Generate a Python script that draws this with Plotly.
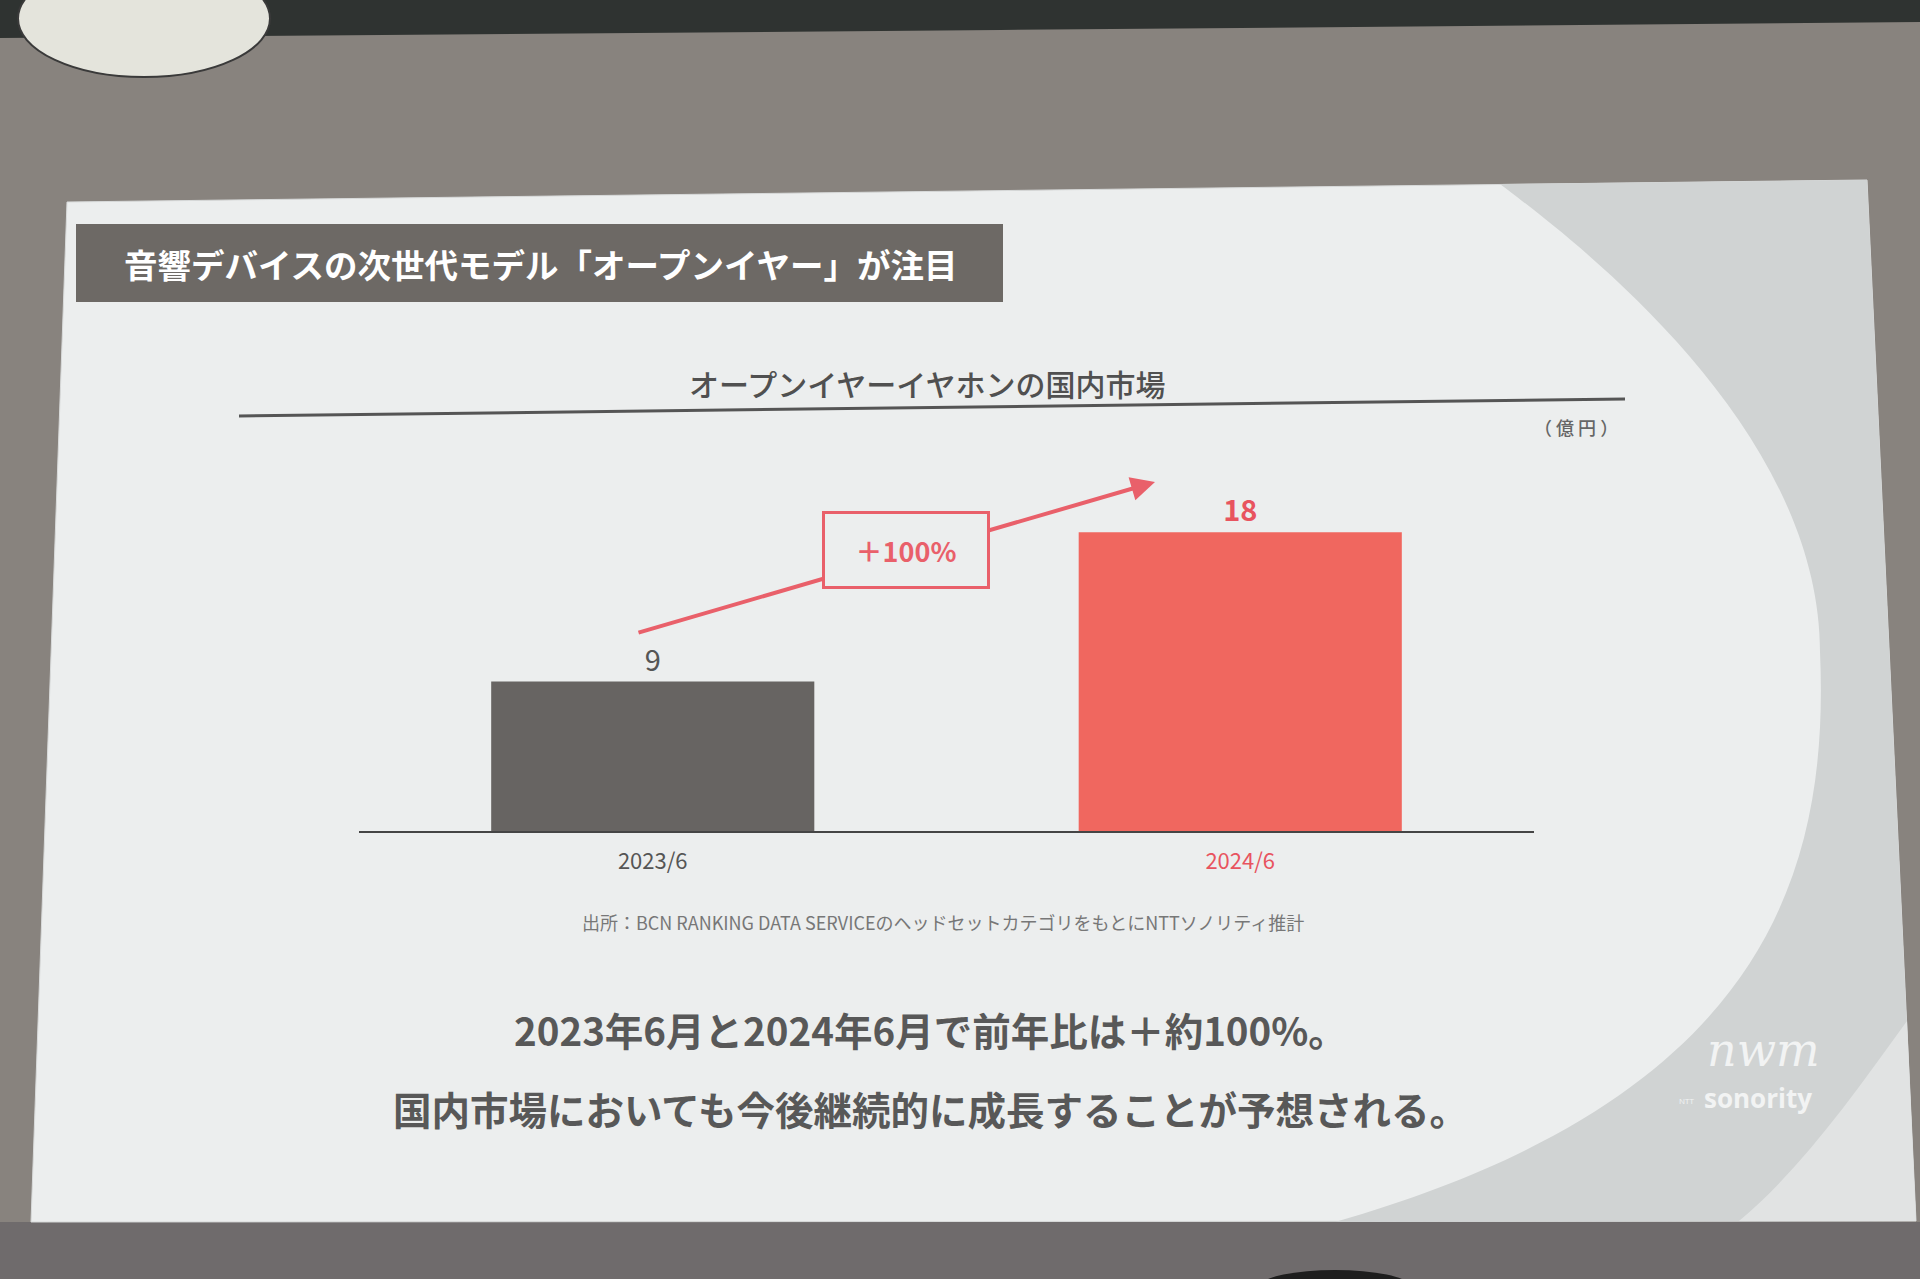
import plotly.graph_objects as go

# ---------------- data ----------------
categories = ["2023/6", "2024/6"]
values = [9, 18]
bar_colors = ["#676462", "#f0675f"]
label_colors = ["#555555", "#e8545f"]
growth_label = "＋100%"
slide_title = "音響デバイスの次世代モデル「オープンイヤー」が注目"
chart_title = "オープンイヤーイヤホンの国内市場"
unit_label = "（億円）"
source_note = "出所：BCN RANKING DATA SERVICEのヘッドセットカテゴリをもとにNTTソノリティ推計"
summary_lines = [
    "2023年6月と2024年6月で前年比は＋約100%。",
    "国内市場においても今後継続的に成長することが予想される。",
]

W, H = 1920, 1279
FONT = "Noto Sans CJK JP"
RED = "#e9606a"
SLIDE = "#eceeee"


def px(x):
    return x / W


def py(y):
    return 1 - y / H


def pt(p):
    return f"{px(p[0]):.5f},{py(p[1]):.5f}"


def path(start, segments, closed=True):
    """segments: list of ('L', (x,y)) or ('C', (c1, c2, end))"""
    s = "M" + pt(start)
    for cmd, data in segments:
        if cmd == "L":
            s += " L" + pt(data)
        else:
            s += " C" + " ".join(pt(p) for p in data)
    if closed:
        s += " Z"
    return s


fig = go.Figure()

fig.add_trace(go.Bar(
    x=categories,
    y=values,
    marker=dict(color=bar_colors, line=dict(width=0)),
    texttemplate=["%{y}", "<b>%{y}</b>"],
    textposition="outside",
    textfont=dict(family=FONT, size=29, color=label_colors),
    cliponaxis=False,
    width=0.55,
    hoverinfo="skip",
))

shapes = []
# room background pieces
shapes.append(dict(type="rect", xref="paper", yref="paper", x0=0, x1=1, y0=py(1290), y1=py(1222),
                   fillcolor="#6f6b6c", line=dict(width=0), layer="below"))
shapes.append(dict(type="path", xref="paper", yref="paper",
                   path=path((0, 0), [("L", (1920, 0)), ("L", (1920, 22)), ("L", (1000, 30)), ("L", (0, 38))]),
                   fillcolor="#2f3331", line=dict(width=0), layer="below"))
shapes.append(dict(type="circle", xref="paper", yref="paper", x0=px(18), x1=px(270), y0=py(77), y1=py(-40),
                   fillcolor="#e4e4dc", line=dict(color="#3a3a3a", width=2), layer="below"))
shapes.append(dict(type="circle", xref="paper", yref="paper", x0=px(1262), x1=px(1408), y0=py(1300), y1=py(1270),
                   fillcolor="#1e1e1e", line=dict(width=0), layer="below"))
# slide
shapes.append(dict(type="path", xref="paper", yref="paper",
                   path=path((67, 202), [("L", (1867, 180)), ("L", (1916, 1221)), ("L", (31, 1222))]),
                   fillcolor=SLIDE, line=dict(color="#d8dada", width=1), layer="below"))
# gray decorative region on right
shapes.append(dict(type="path", xref="paper", yref="paper",
                   path=path((1500, 184), [
                       ("C", ((1560, 230), (1820, 420), (1820, 652))),
                       ("C", ((1830, 880), (1760, 1100), (1335, 1222))),
                       ("L", (1916, 1221)),
                       ("L", (1867, 180)),
                   ]),
                   fillcolor="#d0d3d3", line=dict(width=0), layer="below"))
shapes.append(dict(type="path", xref="paper", yref="paper",
                   path=path((1907, 1021), [
                       ("C", ((1850, 1100), (1800, 1170), (1739, 1221))),
                       ("L", (1916, 1221)),
                   ]),
                   fillcolor="#e1e3e3", line=dict(width=0), layer="below"))
# title box
shapes.append(dict(type="rect", xref="paper", yref="paper", x0=px(76), x1=px(1003), y0=py(302), y1=py(224),
                   fillcolor="#6d6965", line=dict(width=0), layer="below"))
# chart title underline
shapes.append(dict(type="line", xref="paper", yref="paper", x0=px(239), y0=py(416), x1=px(1625), y1=py(399),
                   line=dict(color="#555555", width=3)))
fig.update_layout(shapes=shapes)

annotations = [
    dict(text=f"<b>{slide_title}</b>", x=px(122), y=py(263), xanchor="left", yanchor="middle",
         font=dict(family=FONT, size=33.5, color="#ffffff")),
    dict(text=chart_title, x=px(927), y=py(383), xanchor="center", yanchor="middle",
         font=dict(family=FONT, size=30, color="#505050", weight=500)),
    dict(text=" ".join(unit_label), x=px(1576), y=py(427), xanchor="center", yanchor="middle",
         font=dict(family=FONT, size=18, color="#666666", weight=500)),
    # growth arrow
    dict(text="", x=px(1155), y=py(482), ax=637 - 1155, ay=633 - 482, axref="pixel", ayref="pixel",
         showarrow=True, arrowhead=2, arrowsize=1.2, arrowwidth=4, arrowcolor=RED, standoff=0),
    # growth box
    dict(text=f"<b>{growth_label}</b>", x=px(906), y=py(550), xanchor="center", yanchor="middle",
         width=160, height=70, bgcolor=SLIDE, bordercolor=RED, borderwidth=3,
         font=dict(family=FONT, size=27, color=RED)),
    dict(text=source_note, x=px(943), y=py(922), xanchor="center", yanchor="middle",
         font=dict(family=FONT, size=18, color="#777777")),
    dict(text=f"<b>{summary_lines[0]}</b>", x=px(930), y=py(1029), xanchor="center", yanchor="middle",
         font=dict(family=FONT, size=38.5, color="#585858")),
    dict(text=f"<b>{summary_lines[1]}</b>", x=px(930), y=py(1108), xanchor="center", yanchor="middle",
         font=dict(family=FONT, size=38.5, color="#585858")),
    # logo
    dict(text="nwm", x=px(1763), y=py(1050), xanchor="center", yanchor="middle",
         font=dict(family="DejaVu Serif", size=46, color="#f2f3f3", style="italic")),
    dict(text="<b>sonority</b>", x=px(1758), y=py(1098), xanchor="center", yanchor="middle",
         font=dict(family="Open Sans", size=26, color="#f2f3f3")),
    dict(text="NTT", x=px(1686), y=py(1100), xanchor="center", yanchor="middle",
         font=dict(family="Open Sans", size=8, color="#f2f3f3")),
]
for a in annotations:
    a.setdefault("xref", "paper")
    a.setdefault("yref", "paper")
    a.setdefault("showarrow", False)
fig.update_layout(annotations=annotations)

ticktext = [f'<span style="color:{c}">{t}</span>' for t, c in zip(categories, label_colors)]

fig.update_layout(
    width=W, height=H,
    margin=dict(l=0, r=0, t=0, b=0),
    paper_bgcolor="#88837e",
    plot_bgcolor="rgba(0,0,0,0)",
    showlegend=False,
    font=dict(family=FONT),
    xaxis=dict(domain=[px(359), px(1534)], range=[-0.5, 1.5], showgrid=False, zeroline=False,
               showline=True, linecolor="#454545", linewidth=2, ticks="",
               tickvals=categories, ticktext=ticktext, ticklabelstandoff=10,
               tickfont=dict(family=FONT, size=22, color="#555555")),
    yaxis=dict(domain=[py(831), py(831 - 16.6 * 25)], range=[0, 25], visible=False),
)

fig.write_html("out.html", config={"displayModeBar": False},
               post_script="document.body.style.margin='0';")
